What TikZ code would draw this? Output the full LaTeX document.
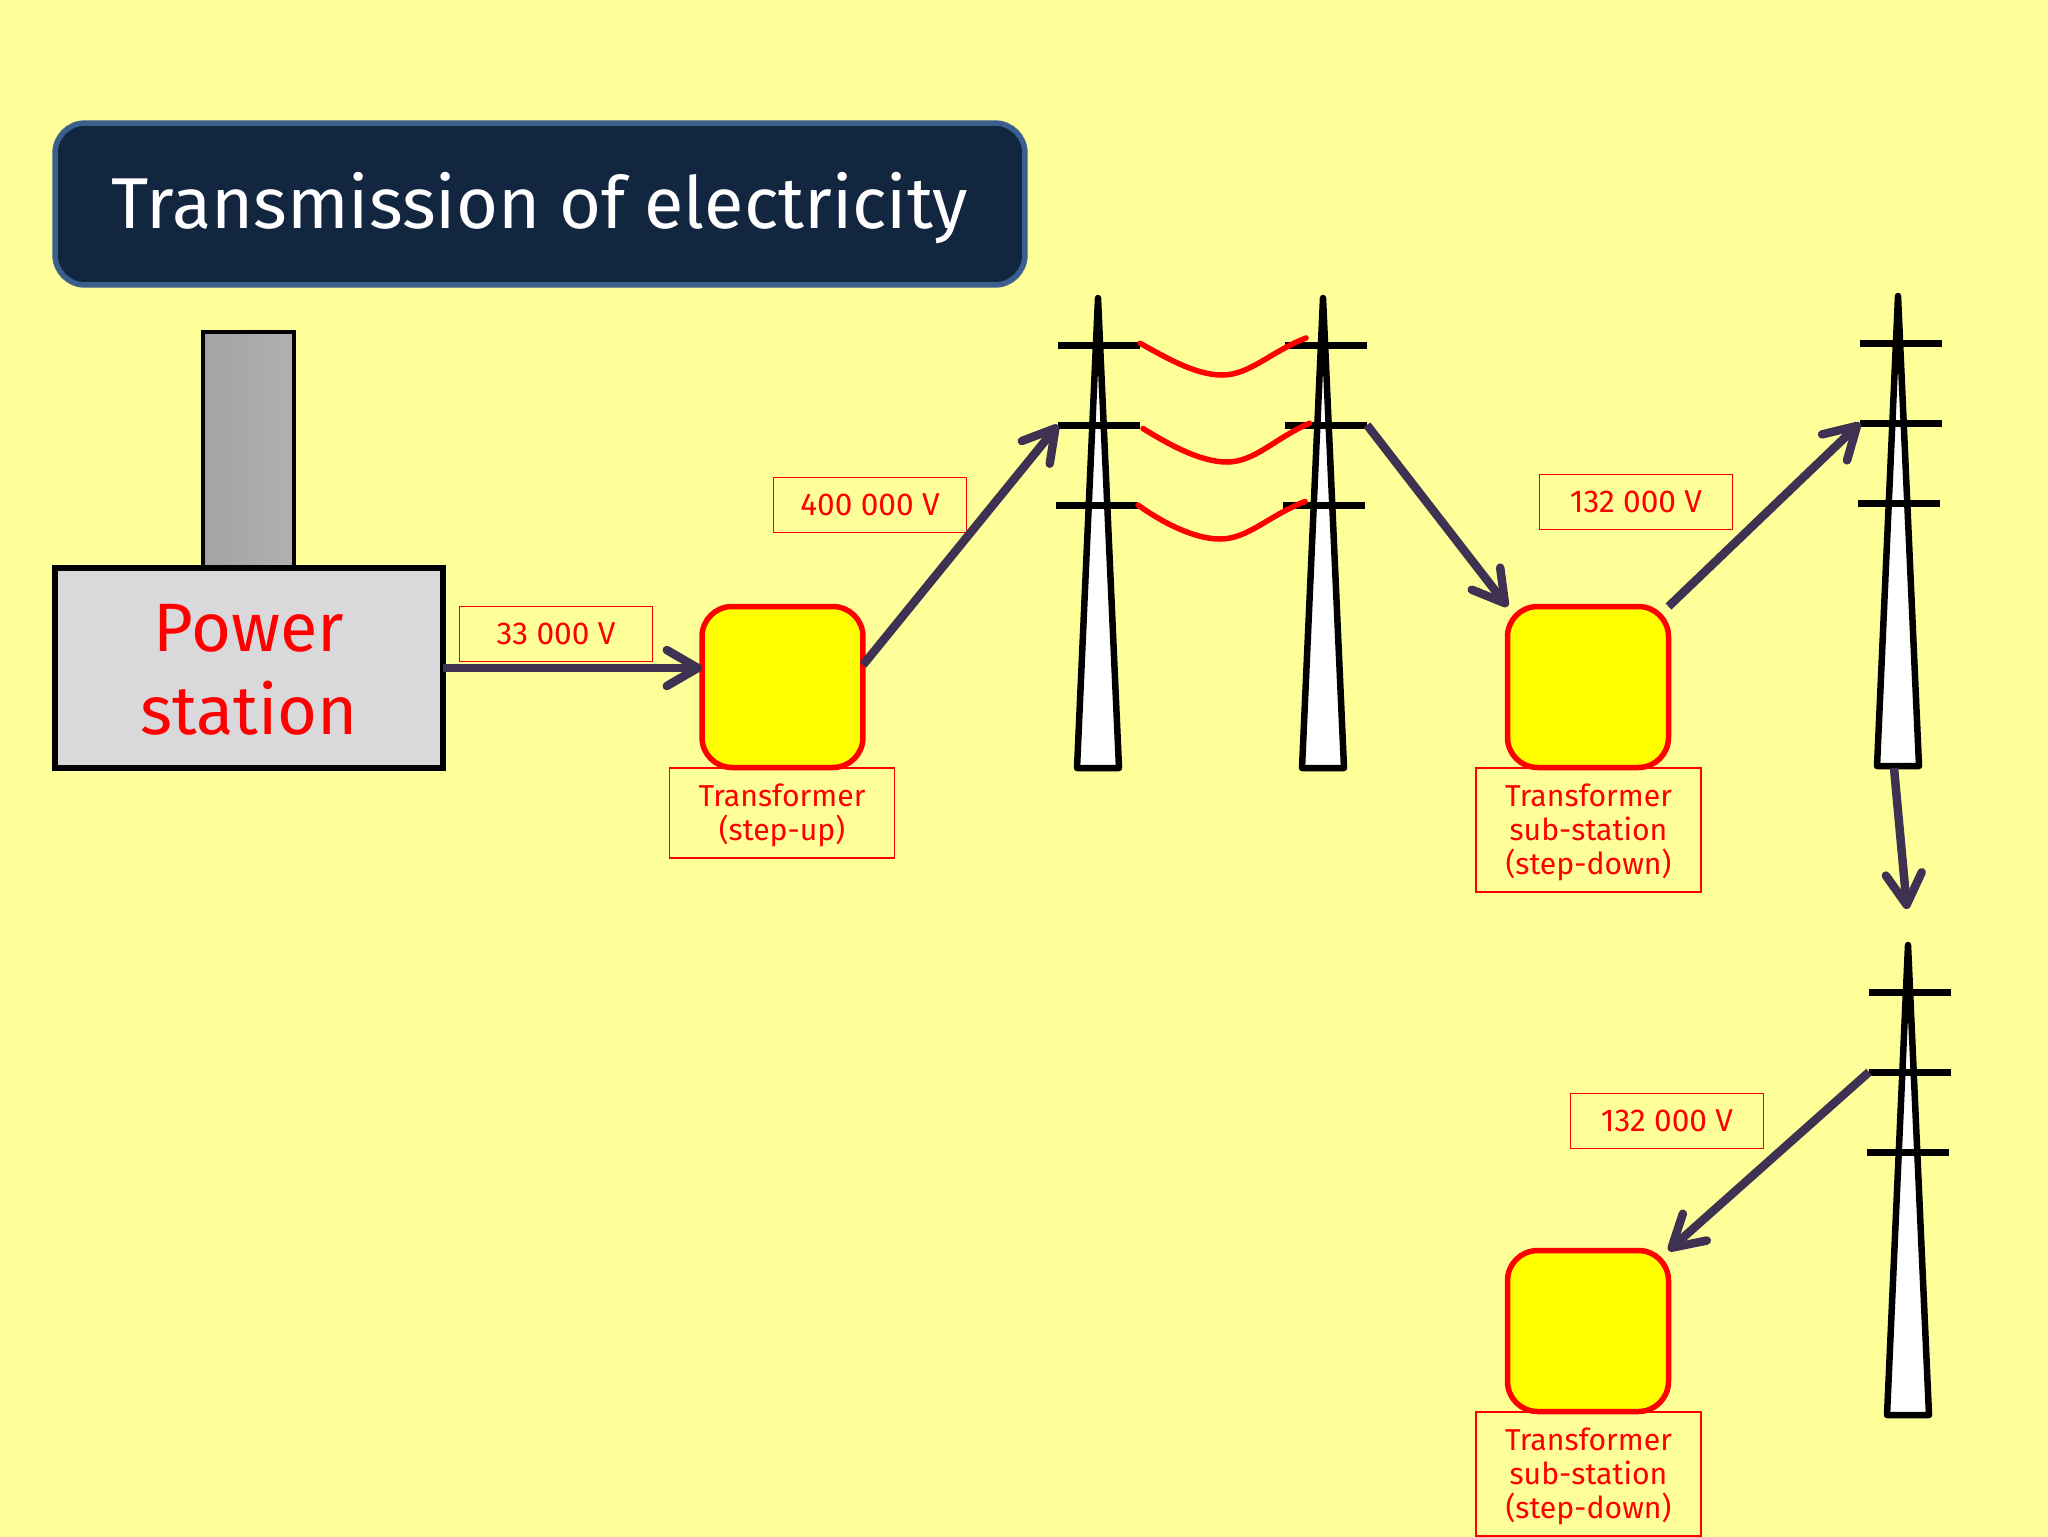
\documentclass[tikz,border=0pt]{standalone}
\usepackage{fontspec}
\setmainfont{Fira Sans}
\usetikzlibrary{arrows.meta}
\definecolor{bg}{RGB}{255,255,153}
\definecolor{navy}{HTML}{132640}
\definecolor{navyline}{HTML}{3B5F8C}
\definecolor{arrowc}{HTML}{3F3151}
\definecolor{wall}{HTML}{D9D9DC}
\definecolor{pure}{RGB}{255,0,0}
\definecolor{yel}{RGB}{255,255,0}
\newcommand{\capstrut}{\rule{0pt}{16pt}}
\tikzset{
  x=0.02cm, y=-0.02cm,
  flow/.style={draw=arrowc, line width=0.17cm, -{Straight Barb[round, length=0.62cm, width=0.72cm]}},
  volt/.style={draw=pure, line width=1pt, text=pure, minimum width=3.86cm, minimum height=1.1cm, inner sep=0pt, outer sep=0pt, font=\fontsize{18}{20}\selectfont},
  trafo/.style={draw=pure, fill=yel, line width=0.11cm, rounded corners=0.6cm, minimum size=3.22cm, outer sep=0pt},
  caption/.style={draw=pure, line width=1pt, text=pure, align=center, inner sep=0pt, outer sep=0pt, minimum width=4.5cm, font=\fontsize{17.2}{19.3}\selectfont},
  wire/.style={draw=pure, line width=0.11cm, line cap=round},
  arm/.style={draw=black, line width=0.14cm},
  pylon/.pic={
    \draw[fill=white, draw=black, line width=0.13cm, line join=round] (0,0) -- (-21,470) -- (21,470) -- cycle;
    \draw[arm] (-41+#1,47) coordinate (-a1l) -- (41+#1,47) coordinate (-a1r);
    \draw[arm] (-41+#1,127) coordinate (-a2l) -- (41+#1,127) coordinate (-a2r);
    \draw[arm] (-43+#1,207) coordinate (-a3l) -- (39+#1,207) coordinate (-a3r);
    \coordinate (-base) at (-4,472);
  }
}
\begin{document}
\begin{tikzpicture}
  \useasboundingbox (0,0) rectangle (2048,1536);
  \fill[bg] (-5,-5) rectangle (2053,1541);

  % Title
  \node[draw=navyline, fill=navy, line width=0.11cm, rounded corners=0.6cm, minimum width=19.4cm, minimum height=3.24cm, outer sep=0pt, text=white, font=\fontsize{41}{50}\selectfont] (title) at (540,204) {\rule{0pt}{37pt}Transmission of electricity};

  % Power station
  \node[draw=black, line width=0.09cm, left color=black!36, right color=black!31, minimum width=1.82cm, minimum height=4.72cm, outer sep=0pt] (chimney) at (248.5,450) {};
  \node[draw=black, fill=wall, line width=0.11cm, minimum width=7.76cm, minimum height=4cm, outer sep=0pt, align=center, text=pure, font=\fontsize{39}{47}\selectfont] (station) at (249,668) {\rule{0pt}{29pt}Power\\station};

  % Transformers
  \node[trafo] (tr1) at (782.5,687) {};
  \node[trafo] (tr2) at (1588,687) {};
  \node[trafo] (tr3) at (1588,1331) {};
  \node[caption, minimum height=1.8cm] (c1) at (782,813) {\capstrut Transformer\\(step-up)};
  \node[caption, minimum height=2.48cm] (c2) at (1588.5,830) {\capstrut Transformer\\sub-station\\(step-down)};
  \node[caption, minimum height=2.48cm] (c3) at (1588.5,1474) {\capstrut Transformer\\sub-station\\(step-down)};

  % Voltages
  \node[volt] (v1) at (556,634) {33 000 V};
  \node[volt] (v2) at (870,505) {400 000 V};
  \node[volt] (v3) at (1636,502) {132 000 V};
  \node[volt] (v4) at (1667,1121) {132 000 V};

  % Pylons
  \pic (t1) at (1098,298) {pylon=1};
  \pic (t2) at (1323,298) {pylon=3};
  \pic (t3) at (1898,296) {pylon=3};
  \pic (t4) at (1908,945) {pylon=2};

  % Wires
  \draw[wire] ([yshift=1pt]t1-a1r) .. controls (1165,357) and (1195,375) .. (1222,375) .. controls (1250,375) and (1270,352) .. ([xshift=12pt,yshift=4pt]t2-a1l);
  \draw[wire] ([xshift=1.7pt,yshift=-2pt]t1-a2r) .. controls (1168,444) and (1200,462) .. (1227,462) .. controls (1255,462) and (1275,438) .. ([xshift=14pt,yshift=1pt]t2-a2l);
  \draw[wire] (t1-a3r) .. controls (1160,521) and (1193,539) .. (1220,539) .. controls (1248,539) and (1268,516) .. ([xshift=12.5pt,yshift=2pt]t2-a3l);

  % Flow arrows
  \draw[flow] ([yshift=0.38cm]tr1.west -| station.east) -- ([yshift=0.38cm]tr1.west);
  \draw[flow] ([yshift=0.44cm]tr1.east) -- (t1-a2l);
  \draw[flow] (t2-a2r) -- (tr2.north west);
  \draw[flow] (tr2.north east) -- (t3-a2l);
  \draw[flow] (t3-base) -- (1907,909) coordinate (drop);
  \draw[flow] (t4-a2l) -- (tr3.north east);
\end{tikzpicture}
\end{document}
